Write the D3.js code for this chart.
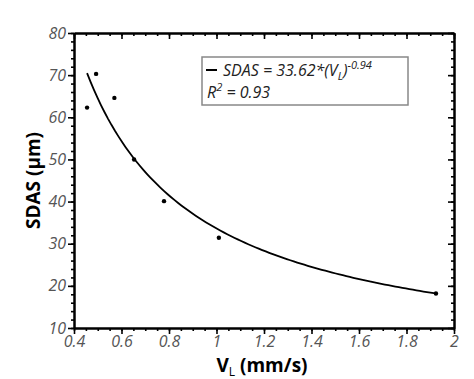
<!DOCTYPE html>
<html>
<head>
<meta charset="utf-8">
<script src="https://cdn.jsdelivr.net/npm/d3@7"></script>
<style>
  body { margin: 0; background: #fff; }
  text { font-family: "Open Sans", "Noto Sans", sans-serif; }
</style>
</head>
<body>
<div id="chart"></div>
<script>
// measured points (V_L in mm/s, SDAS in µm)
const velocity = [0.455, 0.493, 0.57, 0.653, 0.779, 1.01, 1.924];
const sdas = [62.3, 70.3, 64.6, 50.0, 40.1, 31.4, 18.2];

// power-law fit SDAS = a * V^b
const fitA = 33.62;
const fitB = -0.94;
const fitRange = [0.455, 1.93];

const xTicks = [0.4, 0.6, 0.8, 1, 1.2, 1.4, 1.6, 1.8, 2];
const yTicks = [10, 20, 30, 40, 50, 60, 70, 80];

const width = 474, height = 379;
const margin = { top: 33, right: 20, bottom: 51, left: 74 };

const svg = d3.select("#chart").append("svg")
  .attr("width", width)
  .attr("height", height);

const x = d3.scaleLinear().domain([0.4, 2]).range([margin.left, width - margin.right]);
const y = d3.scaleLinear().domain([10, 80]).range([height - margin.bottom, margin.top]);

const tickFmt = d => d3.format("")(d);

// minor ticks
const xMinor = d3.range(0.4, 2.0001, 0.05).map(d => +d.toFixed(2));
const yMinor = d3.range(10, 80.001, 2);

function styleAxis(g) {
  g.select(".domain").attr("stroke", "#000").attr("stroke-width", 2);
  g.selectAll(".tick line").attr("stroke", "#000").attr("stroke-width", 1.6);
  g.selectAll(".tick text")
    .attr("fill", "#555")
    .style("font-size", "16px")
    .style("font-style", "italic");
}

// bottom
svg.append("g")
  .attr("transform", `translate(0,${y(10)})`)
  .call(d3.axisBottom(x).tickValues(xMinor).tickSize(3).tickFormat("").tickSizeOuter(0))
  .call(styleAxis);
svg.append("g")
  .attr("transform", `translate(0,${y(10)})`)
  .call(d3.axisBottom(x).tickValues(xTicks).tickSize(6).tickPadding(2).tickFormat(tickFmt).tickSizeOuter(0))
  .call(styleAxis);

// top (inward)
svg.append("g")
  .attr("transform", `translate(0,${y(80)})`)
  .call(d3.axisBottom(x).tickValues(xMinor).tickSize(3).tickFormat("").tickSizeOuter(0))
  .call(styleAxis);
svg.append("g")
  .attr("transform", `translate(0,${y(80)})`)
  .call(d3.axisBottom(x).tickValues(xTicks).tickSize(6).tickFormat("").tickSizeOuter(0))
  .call(styleAxis);

// left
svg.append("g")
  .attr("transform", `translate(${x(0.4)},0)`)
  .call(d3.axisLeft(y).tickValues(yMinor).tickSize(3).tickFormat("").tickSizeOuter(0))
  .call(styleAxis);
svg.append("g")
  .attr("transform", `translate(${x(0.4)},0)`)
  .call(d3.axisLeft(y).tickValues(yTicks).tickSize(6).tickPadding(2).tickFormat(tickFmt).tickSizeOuter(0))
  .call(styleAxis);

// right (inward)
svg.append("g")
  .attr("transform", `translate(${x(2)},0)`)
  .call(d3.axisLeft(y).tickValues(yMinor).tickSize(3).tickFormat("").tickSizeOuter(0))
  .call(styleAxis);
svg.append("g")
  .attr("transform", `translate(${x(2)},0)`)
  .call(d3.axisLeft(y).tickValues(yTicks).tickSize(6).tickFormat("").tickSizeOuter(0))
  .call(styleAxis);

// fit curve
const curvePts = d3.range(0, 101).map(i => {
  const v = fitRange[0] + (fitRange[1] - fitRange[0]) * i / 100;
  return [v, fitA * Math.pow(v, fitB)];
});
svg.append("path")
  .datum(curvePts)
  .attr("fill", "none")
  .attr("stroke", "#000")
  .attr("stroke-width", 1.8)
  .attr("d", d3.line().x(d => x(d[0])).y(d => y(d[1])));

// points
svg.append("g").selectAll("circle")
  .data(velocity.map((v, i) => [v, sdas[i]]))
  .join("circle")
  .attr("cx", d => x(d[0]))
  .attr("cy", d => y(d[1]))
  .attr("r", 2.2)
  .attr("fill", "#000");

// legend box
const lg = svg.append("g");
lg.append("rect")
  .attr("x", 202).attr("y", 57)
  .attr("width", 206).attr("height", 48)
  .attr("fill", "#fff")
  .attr("stroke", "#888")
  .attr("stroke-width", 1.5);
lg.append("line")
  .attr("x1", 206).attr("x2", 217)
  .attr("y1", 70).attr("y2", 70)
  .attr("stroke", "#000").attr("stroke-width", 2);
const eq = lg.append("text")
  .attr("x", 223).attr("y", 76)
  .attr("fill", "#222")
  .style("font-size", "16px")
  .style("font-style", "italic");
eq.append("tspan").text(`SDAS = ${fitA}*(V`);
eq.append("tspan").attr("dy", 4).style("font-size", "11px").text("L");
eq.append("tspan").attr("dy", -4).text(")");
eq.append("tspan").attr("dy", -7).style("font-size", "11px").text(fitB);
const r2 = lg.append("text")
  .attr("x", 207).attr("y", 98)
  .attr("fill", "#222")
  .style("font-size", "16px")
  .style("font-style", "italic");
r2.append("tspan").text("R");
r2.append("tspan").attr("dy", -7).style("font-size", "11px").text("2");
r2.append("tspan").attr("dy", 7).text(" = 0.93");

// axis titles
const xt = svg.append("text")
  .attr("x", 262).attr("y", 372)
  .attr("text-anchor", "middle")
  .style("font-size", "19px")
  .style("font-weight", "bold");
xt.append("tspan").text("V");
xt.append("tspan").attr("dy", 4).style("font-size", "12px").style("font-weight", "normal").text("L");
xt.append("tspan").attr("dy", -4).text(" (mm/s)");

svg.append("text")
  .attr("transform", `translate(40,${(y(80) + y(10)) / 2}) rotate(-90)`)
  .attr("text-anchor", "middle")
  .style("font-size", "19px")
  .style("font-weight", "bold")
  .text("SDAS (µm)");
</script>
</body>
</html>
